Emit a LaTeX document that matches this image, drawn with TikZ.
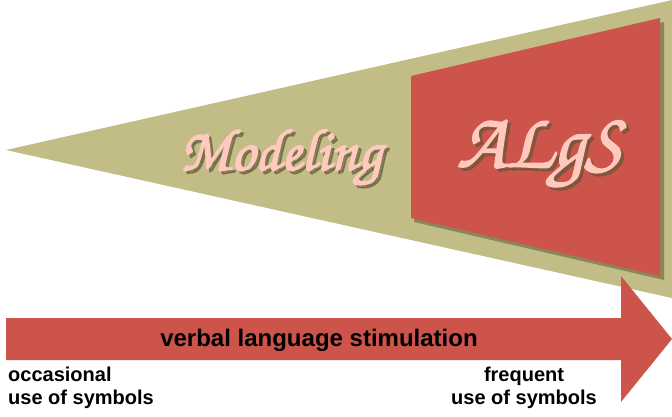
\documentclass[tikz,border=0pt]{standalone}
\usepackage[T1,TU]{fontenc}
\usepackage{fontspec}
\setmainfont{Liberation Sans}
\definecolor{wedge area}{HTML}{C2BD87}
\definecolor{box area}{HTML}{CC544A}
\definecolor{script pink}{HTML}{FFC9BE}
\definecolor{shade}{HTML}{5E5838}
\newcommand\scriptface{\fontencoding{T1}\fontfamily{pzc}\fontseries{mb}\fontshape{it}\selectfont}
% fill and stroke the glyphs, so the script looks like a brush
\newcommand\heavy[1]{\special{pdf:literal direct 2 Tr 1.3 w 1 j}#1\special{pdf:literal direct 0 Tr}}
\tikzset{
  wedge/.style={fill=wedge area}, box/.style={fill=box area}
  }
\tikzstyle{box shadow} = [fill=shade, opacity=0.55]
\tikzstyle{script} = [inner sep=0pt, text=script pink]
\tikzstyle{script shadow} = [inner sep=0pt, text=shade, opacity=0.6]
\tikzstyle{caption text} = [inner sep=0pt, font=\bfseries\fontsize{20}{23}\selectfont]

\begin{document}
\begin{tikzpicture}[x=1pt,y=-1pt]
       \useasboundingbox (0,0) rectangle (672,416);
       \path[wedge] (6,150) -- (672,0) -- (672,298) -- cycle;
       \path[box shadow] (414,80) -- (664,22) -- (664,280) -- (414,222) -- cycle;
       \path[box] (411,76) -- (660,18) -- (660,276) -- (411,218) -- cycle;
       \path[box] (6,318) -- (621,318) -- (621,276) -- (672,339) -- (621,402) -- (621,360) -- (6,360) -- cycle;

       \foreach \name/\pos/\size/\word in {model/{(281,158)}/60/Modeling, algs/{(539,155)}/80/ALgS} {
           \node[script shadow, font=\scriptface\fontsize{\size}{\size}\selectfont, xshift=3pt, yshift=-3pt] (\name shadow) at \pos {\heavy{\word}};
           \node[script, font=\scriptface\fontsize{\size}{\size}\selectfont] (\name) at \pos {\heavy{\word}};
       }

       \node[caption text, font=\bfseries\fontsize{24}{24}\selectfont] (verbal) at (319,340) {verbal language stimulation};
       \node[caption text, anchor=north west, align=left] (occasional) at (8,367) {occasional\\use of symbols};
       \node[caption text, anchor=north, align=center] (frequent) at (524,367) {frequent\\use of symbols};
\end{tikzpicture}
\end{document}
